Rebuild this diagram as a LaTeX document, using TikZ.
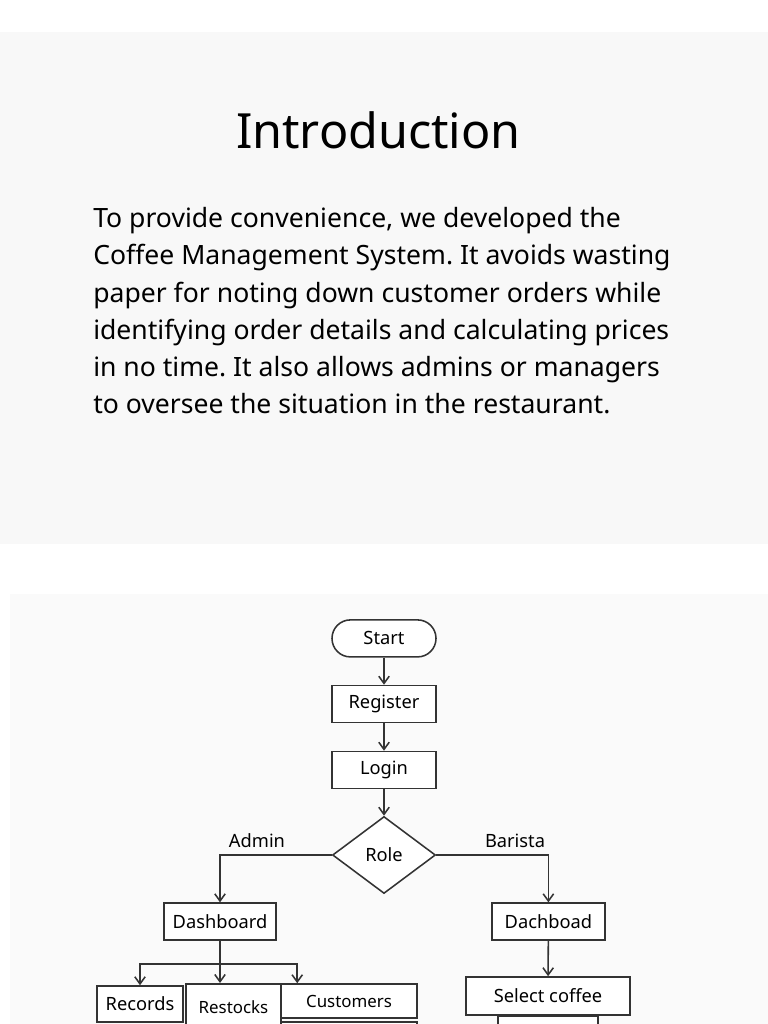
\documentclass[tikz,border=0pt]{standalone}
\usepackage{fontspec}
\setmainfont{Noto Sans}
\usetikzlibrary{shapes.geometric, arrows.meta}

\definecolor{panelgray}{HTML}{F8F8F8}
\definecolor{chartgray}{HTML}{FAFAFA}
\definecolor{inkgray}{HTML}{333333}

\begin{document}
\frenchspacing
\begin{tikzpicture}[
  box/.style={draw=inkgray, line width=1.1pt, fill=white, minimum width=#1, minimum height=0.925cm, inner sep=0pt, font=\fontsize{13}{15}\selectfont},
  box/.default=2.6cm,
  term/.style={box=2.6cm, rounded corners=0.46cm},
  decision/.style={diamond, draw=inkgray, line width=1.1pt, fill=white, minimum width=2.575cm, minimum height=1.925cm, inner sep=0pt, font=\fontsize{13}{15}\selectfont},
  small/.style={font=\fontsize{12}{14}\selectfont},
  lbl/.style={font=\fontsize{13}{15}\selectfont},
  flow/.style={draw=inkgray, line width=1.1pt},
  >={Straight Barb[length=1.8mm, width=2.6mm]}
]

% Page and panels
\useasboundingbox (0,0) rectangle (19.2,-25.6);
\fill[white] (0,0) rectangle (19.2,-25.6);
\fill[panelgray] (0,-0.8) rectangle (19.2,-13.6);
\fill[chartgray] (0.25,-14.85) rectangle (19.2,-25.6);

% Introduction text
\node[font=\fontsize{34.5}{40}\selectfont, anchor=base] (title) at (9.46,-3.7) {Introduction};
\node[font=\fontsize{18.9}{26.5}\selectfont, anchor=north west, align=left, inner sep=0pt] (intro) at (2.325,-5.18) {To provide convenience, we developed the\\
Coffee Management System. It avoids wasting\\
paper for noting down customer orders while\\
identifying order details and calculating prices\\
in no time. It also allows admins or managers\\
to oversee the situation in the restaurant.};

% Main column
\node[term] (start) at (9.6,-15.96) {Start};
\node[box] (register) at (9.6,-17.6) {Register};
\node[box] (login) at (9.6,-19.25) {Login};
\node[decision] (role) at (9.6,-21.375) {Role};

% Admin branch
\node[box=2.8cm] (dash) at (5.5,-23.04) {Dashboard};
\node[box=2.15cm, minimum height=0.9cm] (records) at (3.5,-25.1) {Records};
\node[box=2.375cm, small, anchor=north, text height=0.75cm, text depth=0.75cm] (restocks) at (5.8375,-24.575) {Restocks};
\node[box=3.4cm, small, minimum height=0.85cm] (customers) at (8.725,-25.025) {Customers};
\node[box=3.4cm, anchor=north, minimum height=1cm] (custnext) at (8.725,-25.525) {};

% Barista branch
\node[box=2.825cm] (dach) at (13.71,-23.04) {Dachboad};
\node[box=4.1cm, minimum height=0.95cm] (select) at (13.7,-24.9) {Select coffee};
\node[box=2.5cm, anchor=north, minimum height=1cm] (selnext) at (select.south) {};

% Branch labels
\node[lbl] (admin) at (6.425,-21.025) {Admin};
\node[lbl] (barista) at (12.875,-21.025) {Barista};

% Connectors
\draw[flow, ->] (start) -- (register);
\draw[flow, ->] (register) -- (login);
\draw[flow, ->] (login) -- (role);
\draw[flow, ->] (role.west) -| (dash);
\draw[flow, ->] (role.east) -| (dach);
\draw[flow, ->] (dach) -- (select);

\coordinate (fork) at (5.5,-24.1);
\draw[flow] (dash) -- (fork);
\draw[flow, ->] (fork) -| (records);
\draw[flow, ->] (fork) -- (fork |- restocks.north);
\draw[flow, ->] (fork) -| ([xshift=0.425cm]customers.north west);

\end{tikzpicture}
\end{document}
